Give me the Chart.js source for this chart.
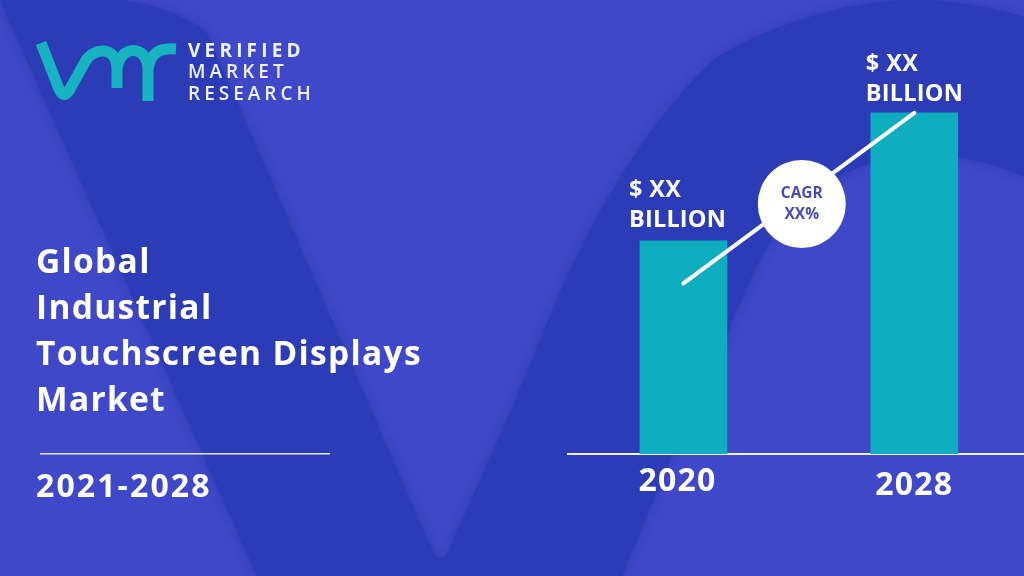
<!DOCTYPE html>
<html>
<head>
<meta charset="utf-8">
<title>Global Industrial Touchscreen Displays Market</title>
<script src="https://cdn.jsdelivr.net/npm/chart.js@4/dist/chart.umd.min.js"></script>
<style>
  html, body { margin: 0; padding: 0; background: #3f48c9; overflow: hidden; }
  canvas { display: block; }
</style>
</head>
<body>
<canvas id="marketChart" width="1024" height="576"></canvas>
<script>
// chart data, values (bar heights in relative units)
var years = [2020, 2028];
var marketValues = [62.5, 100];
var valueLabels = ['$ XX', 'BILLION'];
var trendX = [2020, 2028];
var trendY = [50, 100];
var cagrX = [2024.1];
var cagrY = [73.3];
var cagrLabels = ['CAGR', 'XX%'];
var titleLines = ['Global', 'Industrial', 'Touchscreen Displays', 'Market'];
var periodLabel = '2021-2028';
var brandLines = ['VERIFIED', 'MARKET', 'RESEARCH'];

var colors = {
    background: '#3f48c9',
    shape: '#2b3cb6',
    bar: '#0eadbf',
    logo: '#17b3c1',
    white: '#ffffff',
    cagrText: '#444cb4'
};

var fontFamily = "'Open Sans', 'Noto Sans', sans-serif";

function drawText(ctx, text, x, y, font, color, spacing) {
    ctx.font = font;
    ctx.fillStyle = color;
    ctx.letterSpacing = (spacing || 0) + 'px';
    ctx.fillText(text, x, y);
    ctx.letterSpacing = '0px';
}

// big V shape behind everything
function drawBackground(ctx) {
    ctx.fillStyle = colors.background;
    ctx.fillRect(0, 0, 1024, 576);

    ctx.save();
    ctx.fillStyle = colors.shape;
    ctx.shadowColor = 'rgba(30, 40, 130, .35)';
    ctx.shadowBlur = 10;
    ctx.beginPath();
    ctx.moveTo(0, 0);
    ctx.lineTo(125, 0);
    ctx.bezierCurveTo(160, 6, 190, 18, 207, 33);
    ctx.lineTo(433, 552);
    ctx.quadraticCurveTo(440, 566, 448, 552);
    ctx.lineTo(498, 440);
    ctx.bezierCurveTo(530, 370, 545, 325, 560, 293);
    ctx.bezierCurveTo(590, 225, 640, 130, 713, 60);
    ctx.bezierCurveTo(760, 30, 840, 0, 915, 0);
    ctx.bezierCurveTo(955, 0, 995, 8, 1024, 17);
    ctx.lineTo(1024, 177);
    ctx.bezierCurveTo(995, 163, 960, 155, 925, 155);
    ctx.bezierCurveTo(860, 155, 800, 190, 767, 247);
    ctx.bezierCurveTo(745, 285, 725, 345, 673, 453);
    ctx.lineTo(622, 576);
    ctx.lineTo(257, 576);
    ctx.closePath();
    ctx.fill();
    ctx.restore();
}

function drawLogo(ctx) {
    ctx.save();
    ctx.strokeStyle = colors.logo;
    ctx.lineWidth = 11;
    ctx.lineCap = 'butt';
    ctx.lineJoin = 'round';
    ctx.beginPath();
    ctx.moveTo(41, 43);
    ctx.lineTo(59, 89);
    ctx.quadraticCurveTo(64, 100, 70, 89);
    ctx.lineTo(85, 62);
    ctx.bezierCurveTo(92, 48, 117, 44, 117, 70);
    ctx.lineTo(117, 88);
    ctx.moveTo(117, 70);
    ctx.bezierCurveTo(119, 44, 148, 44, 148, 70);
    ctx.lineTo(148, 101);
    ctx.moveTo(148, 70);
    ctx.bezierCurveTo(150, 52, 160, 48, 176, 49);
    ctx.stroke();
    ctx.restore();

    drawText(ctx, brandLines[0], 188, 57, '700 19px ' + fontFamily, '#eef0fb', 4.2);
    drawText(ctx, brandLines[1], 188, 78, '600 19px ' + fontFamily, '#eef0fb', 4);
    drawText(ctx, brandLines[2], 188, 100, '600 19px ' + fontFamily, '#eef0fb', 4);
}

function drawLeftText(ctx) {
    var font = '700 33.5px ' + fontFamily;
    var baselines = [273, 319, 365, 411];
    titleLines.forEach(function(line, i) {
        drawText(ctx, line, 36, baselines[i], font, colors.white, 1.3);
    });

    ctx.fillStyle = '#e3e6f8';
    ctx.fillRect(40, 453, 290, 1.5);

    drawText(ctx, periodLabel, 36, 497, '700 32px ' + fontFamily, colors.white, 2.1);
}

// text above bars, under the axis and inside the circle, placed from the scales
function drawChartText(chart) {
    var ctx = chart.ctx;
    var x = chart.scales.x;
    var y = chart.scales.y;
    var font = '700 23.5px ' + fontFamily;
    var yearFont = '700 32px ' + fontFamily;
    var labelLeft = [-54.5, -48.5];
    var labelLift = [0, -2];
    var yearShift = [-6, 0];
    var yearBaseline = [491, 495];

    years.forEach(function(year, i) {
        var center = x.getPixelForValue(year);
        var top = y.getPixelForValue(marketValues[i]);
        drawText(ctx, valueLabels[0], center + labelLeft[i], top - 44 - labelLift[i], font, colors.white, 0.4);
        drawText(ctx, valueLabels[1], center + labelLeft[i], top - 14 - labelLift[i], font, colors.white, 0.2);

        ctx.textAlign = 'center';
        drawText(ctx, String(year), center + yearShift[i], yearBaseline[i], yearFont, colors.white, 1.2);
        ctx.textAlign = 'left';
    });

    var cx = x.getPixelForValue(cagrX[0]);
    var cy = y.getPixelForValue(cagrY[0]);
    ctx.textAlign = 'center';
    drawText(ctx, cagrLabels[0], cx, cy - 6, '700 15.5px ' + fontFamily, colors.cagrText);
    drawText(ctx, cagrLabels[1], cx, cy + 15, '700 15.5px ' + fontFamily, colors.cagrText);
    ctx.textAlign = 'left';
}

var artworkPlugin = {
    id: 'artwork',
    beforeDraw: function(chart) {
        drawBackground(chart.ctx);
        drawLogo(chart.ctx);
        drawLeftText(chart.ctx);
    },
    afterDraw: function(chart) {
        drawChartText(chart);
    }
};

var ctx = document.getElementById('marketChart').getContext('2d');
new Chart(ctx, {
    type: 'bar',
    plugins: [artworkPlugin],
    data: {
        datasets: [{
            type: 'scatter',
            data: cagrX.map(function(v, i) { return { x: v, y: cagrY[i] }; }),
            pointRadius: 44,
            pointHoverRadius: 44,
            pointBackgroundColor: colors.white,
            pointBorderWidth: 0,
            clip: false,
            order: 1
        }, {
            type: 'line',
            data: trendX.map(function(v, i) { return { x: v, y: trendY[i] }; }),
            borderColor: colors.white,
            borderWidth: 4,
            borderCapStyle: 'round',
            pointRadius: 0,
            tension: 0,
            clip: false,
            order: 2
        }, {
            type: 'bar',
            data: years.map(function(v, i) { return { x: v, y: marketValues[i] }; }),
            backgroundColor: colors.bar,
            barThickness: 87,
            order: 3
        }]
    },
    options: {
        responsive: false,
        animation: false,
        layout: {
            autoPadding: false,
            padding: { left: 568, right: 0, top: 0, bottom: 122 }
        },
        plugins: {
            legend: { display: false },
            tooltip: { enabled: false }
        },
        scales: {
            x: {
                type: 'linear',
                offset: false,
                min: 2016,
                max: 2031.8,
                grid: { display: false, drawTicks: false },
                border: { display: true, color: '#eef0fb', width: 2 },
                ticks: { display: false }
            },
            y: {
                display: false,
                min: 0,
                max: 133.1
            }
        }
    }
});
</script>
</body>
</html>
